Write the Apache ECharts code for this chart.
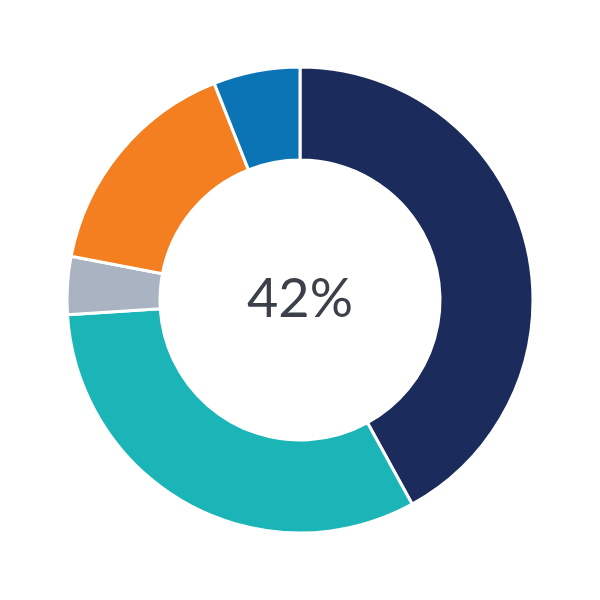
<!DOCTYPE html>
<html lang="en">
<head>
    <meta charset="UTF-8">
    <title>Donut</title>
    <script src="https://cdn.jsdelivr.net/npm/echarts@6/dist/echarts.min.js"></script>
    <style>
        html, body { margin: 0; padding: 0; background: #fff; }
        #main { width: 600px; height: 600px; }
    </style>
</head>
<body>
<div id="main"></div>
<script>
    // 数据
    var categories = ['A', 'B', 'C', 'D', 'E'];
    var values = [42, 32, 4, 16, 6];
    var colors = ['#1b2b5b', '#1bb5b7', '#a9b3c1', '#f47f20', '#0a74b5'];
    var centerLabel = '42%';

    var myChart = echarts.init(document.getElementById('main'));

    var pieData = [];
    for (var i = 0; i < categories.length; i++) {
        pieData.push({ name: categories[i], value: values[i], itemStyle: { color: colors[i] } });
    }

    var option = {
        animation: false,
        title: {
            text: centerLabel,
            left: 'center',
            top: 'middle',
            textStyle: {
                fontFamily: 'Lato',
                fontSize: 54,
                fontWeight: 'normal',
                color: '#3b404a'
            }
        },
        series: [{
            type: 'pie',
            center: ['50%', '50%'],
            radius: [140, 233],
            startAngle: 90,
            clockwise: true,
            label: { show: false },
            labelLine: { show: false },
            itemStyle: { borderColor: '#fff', borderWidth: 3 },
            emphasis: { disabled: true },
            data: pieData
        }]
    };

    myChart.setOption(option);
</script>
</body>
</html>
